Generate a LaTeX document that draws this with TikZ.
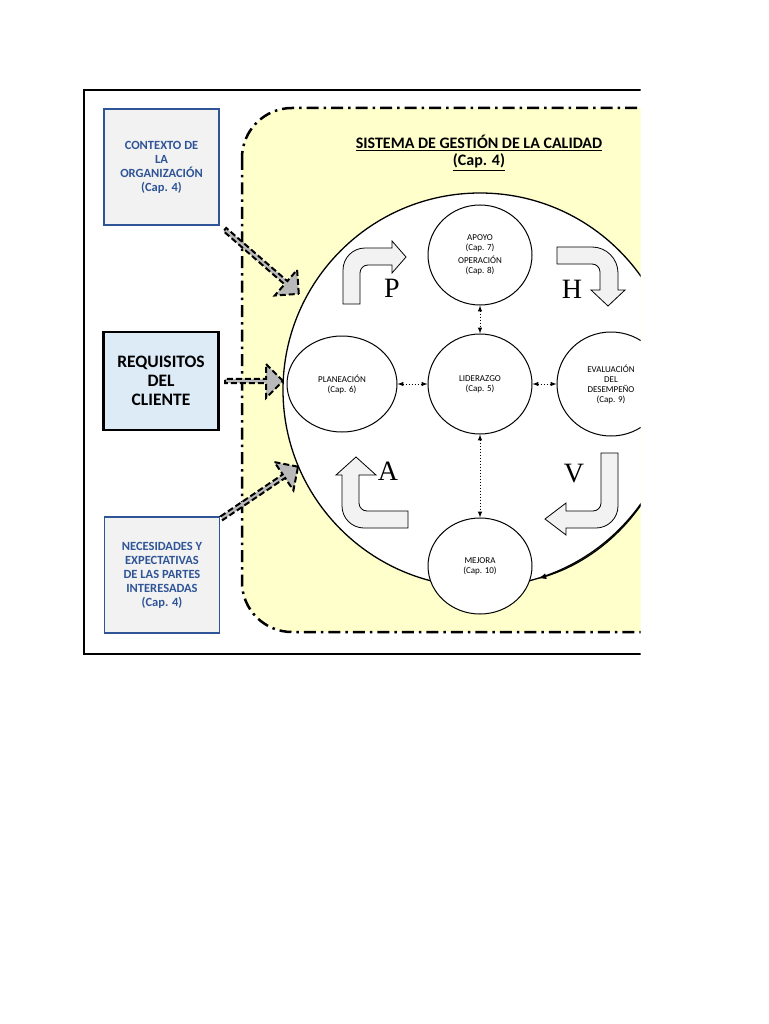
\documentclass[tikz,border=0pt]{standalone}
\usepackage{fontspec}
\setmainfont{Carlito}
\newfontfamily\pdcafont{Liberation Serif}
\usetikzlibrary{shapes,arrows,arrows.meta,positioning}
\definecolor{sgcyellow}{HTML}{FFFFCC}
\definecolor{boxblue}{HTML}{2F5597}
\definecolor{reqfill}{HTML}{DDEBF7}
\definecolor{boxgray}{HTML}{F2F2F2}
\begin{document}
\begin{tikzpicture}[x=1pt,y=-1pt,
  ctx/.style={
    draw=boxblue,line width=1.5pt,fill=boxgray,
    minimum width=115pt,minimum height=116pt,
    align=center,text=boxblue,font=\bfseries\fontsize{12.5}{14}\selectfont},
  proc/.style 2 args={
    ellipse,draw,line width=1pt,fill=white,
    minimum width=#1,minimum height=#2,
    align=center,font=\fontsize{9}{10}\selectfont},
  fat/.style={
    single arrow,draw,dash pattern=on 6pt off 3pt,line width=2pt,fill=gray!55,
    minimum height=#1,minimum width=34pt,single arrow head extend=7pt,
    inner sep=0pt},
  turn/.style={draw,line width=0.8pt,fill=boxgray},
  dep/.style={<->,>=latex,dotted,line width=1pt},
  letter/.style={font=\pdcafont\fontsize{28}{28}\selectfont},
]
\useasboundingbox (0,0) rectangle (768,1024);
\begin{scope}
  \clip (0,0) rectangle (640.5,1024);

  % frame and quality system
  \draw[line width=1.5pt] (84,90) rectangle (680,654);
  \draw[fill=sgcyellow,line width=2.5pt,dash pattern=on 12pt off 5pt on 2.5pt off 5pt,rounded corners=50pt]
    (242,108) rectangle (720,632);
  \node[align=center,font=\bfseries\fontsize{16}{17}\selectfont] (title) at (479,153)
    {\underline{SISTEMA DE GESTIÓN DE LA CALIDAD}\\\underline{(Cap. 4)}};

  % inputs
  \node[ctx] (ctx) at (161.5,167) {CONTEXTO DE\\LA\\ORGANIZACIÓN\\(Cap. 4)};
  \node[draw,line width=2.5pt,fill=reqfill,minimum width=115pt,minimum height=98pt,
    align=center,font=\bfseries\fontsize{17.5}{19}\selectfont] (req) at (161,381)
    {REQUISITOS\\DEL\\CLIENTE};
  \node[ctx] (nec) at (162,575) {NECESIDADES Y\\EXPECTATIVAS\\DE LAS PARTES\\INTERESADAS\\(Cap. 4)};

  \node[fat=98pt,rotate=-41] (in1) at (261,261) {};
  \node[fat=58pt] (in2) at (253,381) {};
  \node[fat=92pt,rotate=34] (in3) at (259,493) {};

  % PHVA cycle
  \node[circle,draw,line width=1.3pt,fill=white,minimum size=394pt] (cycle) at (480,390) {};
  \node[proc={104pt}{100pt}] (apoyo) at (480,255) {APOYO\\(Cap. 7)\\[3pt]OPERACIÓN\\(Cap. 8)};
  \node[proc={104pt}{100pt}] (lider) at (480,384) {LIDERAZGO\\(Cap. 5)};
  \node[proc={110pt}{96pt}] (plan) at (342,384) {PLANEACIÓN\\(Cap. 6)};
  \node[proc={108pt}{104pt}] (eval) at (611,384) {EVALUACIÓN\\DEL\\DESEMPEÑO\\(Cap. 9)};
  \node[proc={104pt}{96pt}] (mejora) at (480,566) {MEJORA\\(Cap. 10)};

  \draw[dep] (apoyo) -- (lider);
  \draw[dep] (plan) -- (lider);
  \draw[dep] (lider) -- (eval);
  \draw[dep] (lider) -- (mejora);
  \draw[-{Latex[length=8pt]},line width=1.3pt] (cycle.-15) arc(15:73:197);

  % turning arrows
  \draw[turn] (343,304) -- (343,270) arc(180:270:22) -- (392,248) -- (392,241)
    -- (406,257) -- (392,273) -- (392,265) -- (368,265) arc(270:180:8) -- (360,304) -- cycle;
  \draw[turn] (557,247) -- (592,247) arc(270:360:26) -- (618,290) -- (625,290)
    -- (608,306) -- (591,290) -- (600,290) -- (600,272) arc(0:-90:8) -- (557,264) -- cycle;
  \draw[turn] (618,453) -- (618,506) arc(0:90:22) -- (566,528) -- (566,535)
    -- (545,519) -- (566,503) -- (566,511) -- (593,511) arc(90:0:8) -- (601,453) -- cycle;
  \draw[turn] (408,528) -- (364,528) arc(90:180:22) -- (342,475) -- (336,475)
    -- (356,457) -- (376,475) -- (359,475) -- (359,503) arc(180:90:8) -- (408,511) -- cycle;

  \node[letter] (p) at (392,288) {P};
  \node[letter] (h) at (572,289) {H};
  \node[letter] (a) at (388,471) {A};
  \node[letter] (v) at (574,474) {V};
\end{scope}
\end{tikzpicture}
\end{document}
